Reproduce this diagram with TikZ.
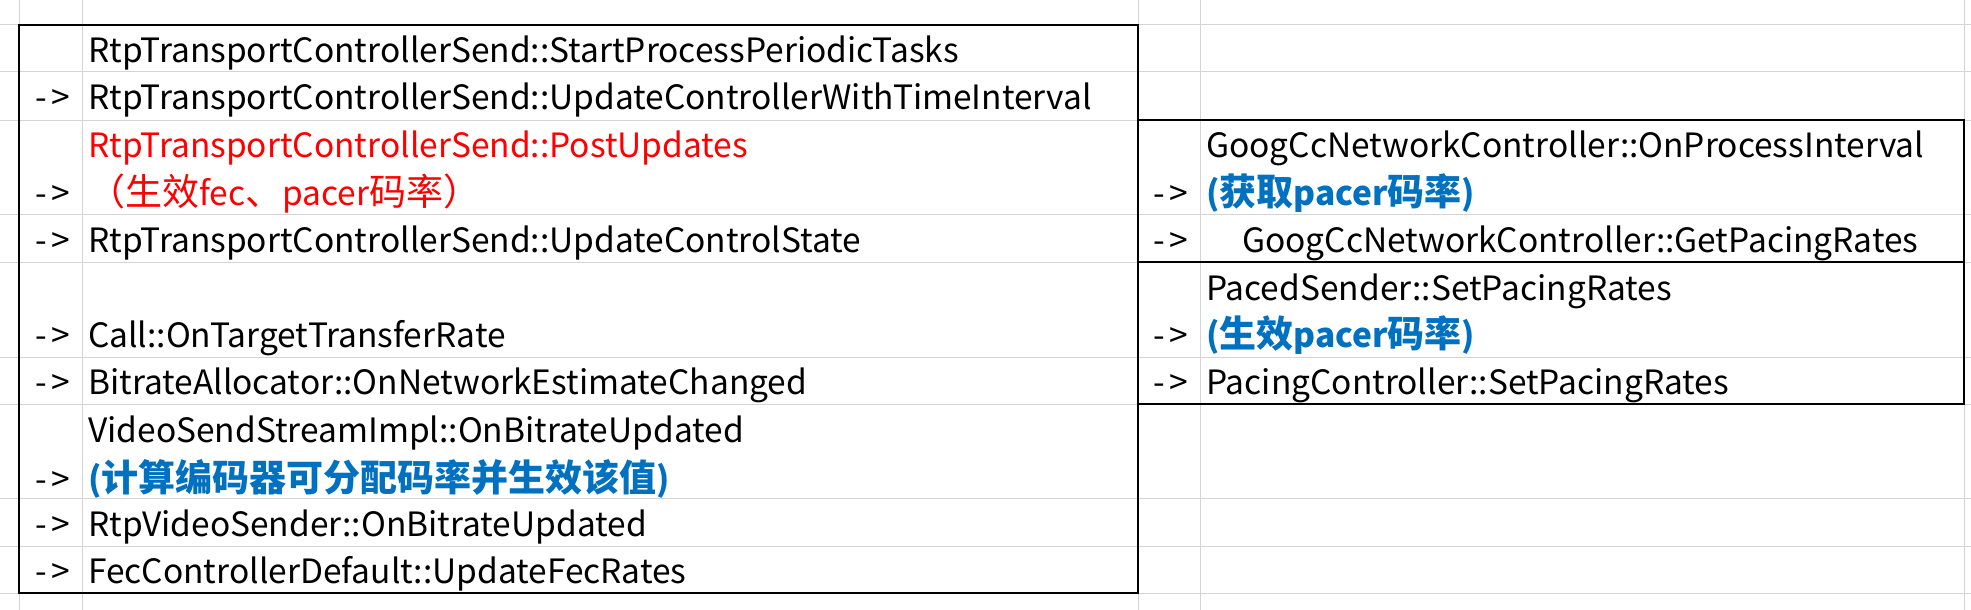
\documentclass[tikz,border=0pt]{standalone}
\usepackage{fontspec}
\setmainfont{Noto Sans CJK SC}
\definecolor{gridgray}{RGB}{212,212,212}
\definecolor{xlblue}{RGB}{0,112,192}
\definecolor{xlred}{RGB}{255,0,0}
\newcommand\zhbig[1]{{\fontsize{37}{40}\selectfont #1}}
\newcommand\myarrow{-\kern5pt>}
\begin{document}
\begin{tikzpicture}[x=1pt,y=-1pt,
  gridline/.style={draw=gridgray, line width=1pt},
  frame/.style={draw=black, line width=2pt},
  txt/.style={anchor=base west, inner sep=0pt, font=\fontsize{33.5}{36}\selectfont},
  arrtxt/.style={txt},
  redtxt/.style={txt, text=xlred},
  bluetxt/.style={txt, text=xlblue, font=\fontsize{33.5}{36}\selectfont\bfseries}
]
\useasboundingbox[fill=white] (0,0) rectangle (1971,610);
% grid
\foreach \yy in {25,72,120,214,262,357,404,498,546,593}
  \draw[gridline] (0,\yy) -- (1971,\yy);
\foreach \xx in {19,82,1138,1200,1964}
  \draw[gridline] (\xx,0) -- (\xx,610);
% frames
\draw[frame] (19,25) rectangle (1138,593);
\draw[frame] (1138,120) rectangle (1964,262);
\draw[frame] (1138,262) rectangle (1964,404);
% left texts
\node[txt] (l1) at (88,63) {RtpTransportControllerSend::StartProcessPeriodicTasks};
\node[arrtxt] (a2) at (35,110) {\myarrow};
\node[txt] (l2) at (88,110) {RtpTransportControllerSend::UpdateControllerWithTimeInterval};
\node[redtxt] (l3) at (88,157) {RtpTransportControllerSend::PostUpdates};
\node[arrtxt] (a3) at (35,205) {\myarrow};
\node[redtxt] (l3b) at (88,205) {\zhbig{（生效}fec\zhbig{、}pacer\zhbig{码率）}};
\node[arrtxt] (a4) at (35,252) {\myarrow};
\node[txt] (l4) at (88,252) {RtpTransportControllerSend::UpdateControlState};
\node[arrtxt] (a5) at (35,347) {\myarrow};
\node[txt] (l5) at (88,347) {Call::OnTargetTransferRate};
\node[arrtxt] (a6) at (35,394) {\myarrow};
\node[txt] (l6) at (88,394) {BitrateAllocator::OnNetworkEstimateChanged};
\node[txt] (l7) at (88,442) {VideoSendStreamImpl::OnBitrateUpdated};
\node[arrtxt] (a7) at (35,491) {\myarrow};
\node[bluetxt] (l7b) at (88,491) {(\zhbig{计算编码器可分配码率并生效该值})};
\node[arrtxt] (a8) at (35,536) {\myarrow};
\node[txt] (l8) at (88,536) {RtpVideoSender::OnBitrateUpdated};
\node[arrtxt] (a9) at (35,583) {\myarrow};
\node[txt] (l9) at (88,583) {FecControllerDefault::UpdateFecRates};
% right texts
\node[txt] (r1) at (1206,157) {GoogCcNetworkController::OnProcessInterval};
\node[arrtxt] (ra1) at (1153,205) {\myarrow};
\node[bluetxt] (r1b) at (1206,205) {(\zhbig{获取}pacer\zhbig{码率})};
\node[arrtxt] (ra2) at (1153,252) {\myarrow};
\node[txt] (r2) at (1242,252) {GoogCcNetworkController::GetPacingRates};
\node[txt] (r3) at (1206,300) {PacedSender::SetPacingRates};
\node[arrtxt] (ra3) at (1153,347) {\myarrow};
\node[bluetxt] (r3b) at (1206,347) {(\zhbig{生效}pacer\zhbig{码率})};
\node[arrtxt] (ra4) at (1153,394) {\myarrow};
\node[txt] (r4) at (1206,394) {PacingController::SetPacingRates};
\end{tikzpicture}
\end{document}
